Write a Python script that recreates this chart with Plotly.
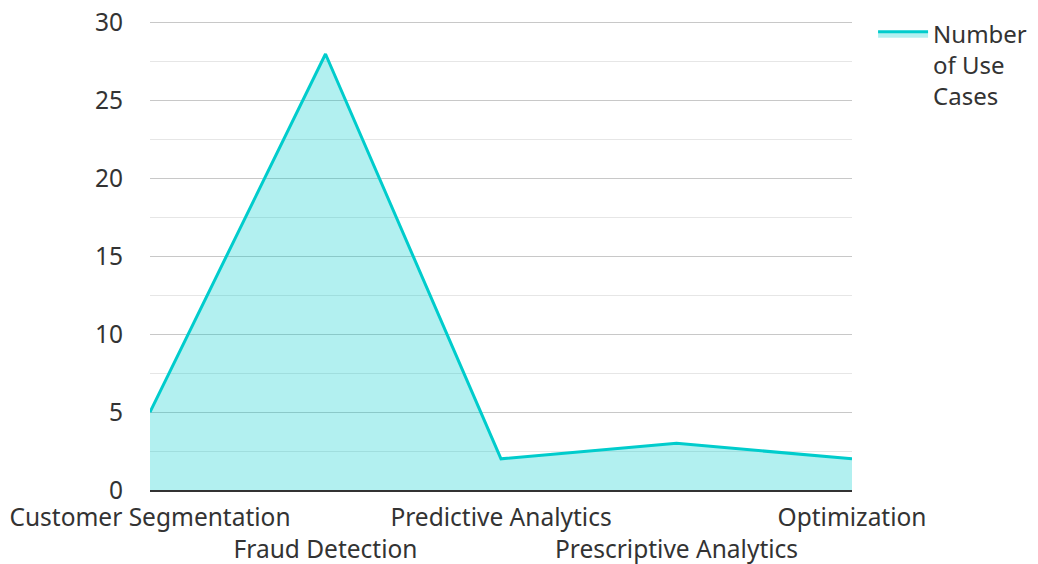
import plotly.graph_objects as go

categories = ["Customer Segmentation", "Fraud Detection", "Predictive Analytics",
              "Prescriptive Analytics", "Optimization"]
values = [5, 28, 2, 3, 2]
series_name = "Number<br>of Use<br>Cases"

x_pos = list(range(len(categories)))
tick_text = [c if i % 2 == 0 else "<br>" + c for i, c in enumerate(categories)]

fig = go.Figure()
fig.add_trace(go.Scatter(
    x=x_pos, y=values, mode="lines", fill="tozeroy",
    line=dict(color="#00CCCC", width=3),
    fillcolor="rgba(0,204,204,0.3)",
    name=series_name, showlegend=True,
))

fig.update_layout(
    width=1038, height=564,
    margin=dict(l=142, r=194, t=13, b=82, autoexpand=False),
    paper_bgcolor="white", plot_bgcolor="white",
    font=dict(family="Noto Sans", size=24.5, color="#333333"),
    legend=dict(x=1.03, y=1.02, xanchor="left", yanchor="top",
                font=dict(size=24), bgcolor="rgba(0,0,0,0)",
                itemwidth=50, valign="top"),
    xaxis=dict(
        range=[0, 4], tickmode="array", tickvals=x_pos, ticktext=tick_text,
        showgrid=False, zeroline=False, showline=True, linecolor="#333333",
        linewidth=2, ticks="", ticklen=0, tickangle=0, automargin=False,
        ticklabelstandoff=5,
    ),
    yaxis=dict(
        range=[0, 30.12], dtick=5, tick0=0, showgrid=True, gridcolor="#c8c8c8",
        gridwidth=1, zeroline=False, showline=False, ticks="",
        ticklabelstandoff=26, automargin=False, ticklabeloverflow="allow",
        minor=dict(dtick=2.5, showgrid=True, gridcolor="#e6e6e6", gridwidth=1),
    ),
)

fig.write_html("out.html")
